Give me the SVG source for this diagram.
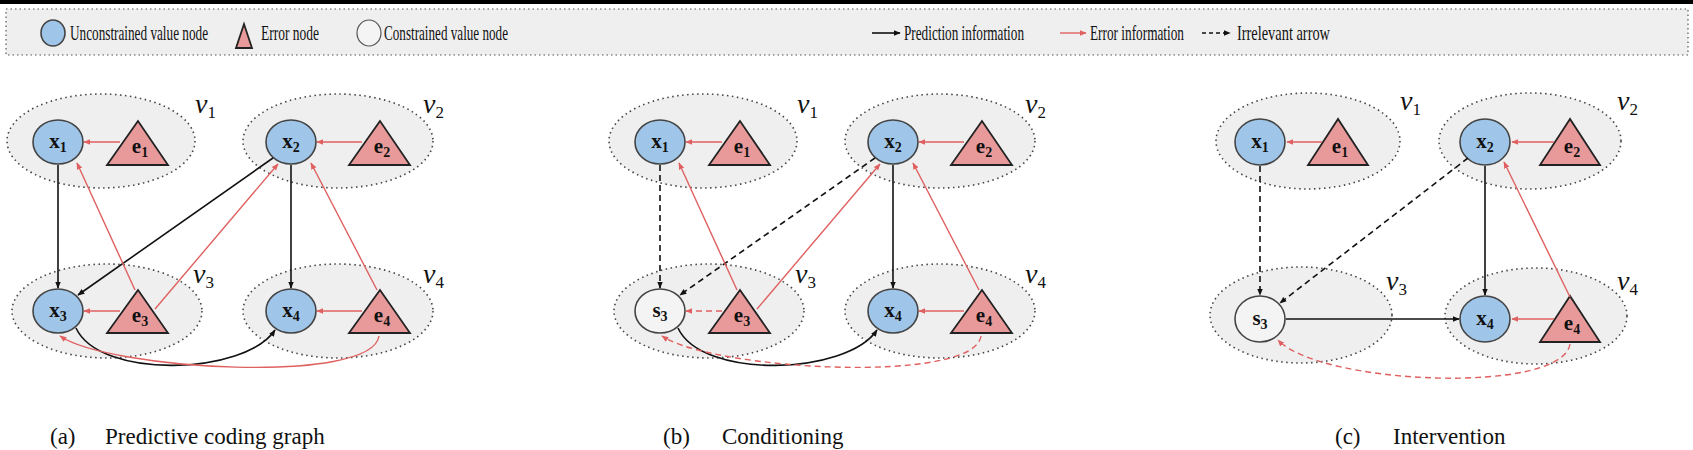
<svg xmlns="http://www.w3.org/2000/svg" width="1693" height="450" viewBox="0 0 1693 450">
<defs>
<marker id="mb" viewBox="0 0 10 10" refX="9" refY="5" markerWidth="7" markerHeight="7" orient="auto" markerUnits="userSpaceOnUse"><path d="M0,1 L10,5 L0,9 z" fill="#111"/></marker>
<marker id="mr" viewBox="0 0 10 10" refX="9" refY="5" markerWidth="7" markerHeight="7" orient="auto" markerUnits="userSpaceOnUse"><path d="M0,1 L10,5 L0,9 z" fill="#e06060"/></marker>
<style>
.grp{fill:#efefef;stroke:#444;stroke-width:1.6;stroke-dasharray:1.5 3.5}
.x{fill:#9fc5e8;stroke:#444;stroke-width:1.6}
.s{fill:#f4f4f4;stroke:#444;stroke-width:1.6}
.e{fill:#e89a9a;stroke:#222;stroke-width:1.8}
.lb{font-family:"Liberation Serif",serif;font-weight:bold;font-size:21px;text-anchor:middle;fill:#111}
.sub{font-size:14px}
.v{font-family:"Liberation Serif",serif;font-style:italic;font-size:28px;fill:#111}
.vs{font-size:17px;font-style:normal}
.k{stroke:#111;stroke-width:1.6;fill:none;marker-end:url(#mb)}
.r{stroke:#e06060;stroke-width:1.4;fill:none;marker-end:url(#mr)}
.d{stroke-dasharray:6 4}
.leg{font-family:"Liberation Serif",serif;font-size:21px;fill:#111}
.cap{font-family:"Liberation Serif",serif;font-size:23px;fill:#111}
</style>
</defs>
<rect x="0" y="0" width="1693" height="450" fill="#fff"/>
<rect x="0" y="0" width="1693" height="4" fill="#000"/>
<g id="legend">
<rect x="6" y="9" width="1682" height="46" fill="#efefef" stroke="#555" stroke-width="1.2" stroke-dasharray="1.5 3"/>
<ellipse cx="53" cy="33" rx="12" ry="13" class="x"/>
<text x="70" y="40" class="leg" textLength="138" lengthAdjust="spacingAndGlyphs">Unconstrained value node</text>
<path d="M236,48 L244,24 L252,48 z" class="e" stroke-width="1.2"/>
<text x="261" y="40" class="leg" textLength="58" lengthAdjust="spacingAndGlyphs">Error node</text>
<ellipse cx="369" cy="33" rx="12" ry="13" fill="#f4f4f4" stroke="#555" stroke-width="1.2"/>
<text x="384" y="40" class="leg" textLength="124" lengthAdjust="spacingAndGlyphs">Constrained value node</text>
<line x1="872" y1="33" x2="900" y2="33" class="k"/>
<text x="904" y="40" class="leg" textLength="120" lengthAdjust="spacingAndGlyphs">Prediction information</text>
<line x1="1060" y1="33" x2="1086" y2="33" class="r"/>
<text x="1090" y="40" class="leg" textLength="94" lengthAdjust="spacingAndGlyphs">Error information</text>
<line x1="1202" y1="33" x2="1230" y2="33" class="k" stroke-dasharray="4 3"/>
<text x="1237" y="40" class="leg" textLength="93" lengthAdjust="spacingAndGlyphs">Irrelevant arrow</text>
</g>

<g id="panel-a">
<g id="a-v1"><ellipse cx="101" cy="141" rx="94" ry="47" class="grp"/><text x="195" y="113" class="v">v<tspan class="vs" dy="5">1</tspan></text></g>
<g id="a-v2"><ellipse cx="338" cy="141" rx="95" ry="47" class="grp"/><text x="423" y="113" class="v">v<tspan class="vs" dy="5">2</tspan></text></g>
<g id="a-v3"><ellipse cx="107" cy="311" rx="95" ry="47" class="grp"/><text x="193" y="283" class="v">v<tspan class="vs" dy="5">3</tspan></text></g>
<g id="a-v4"><ellipse cx="338" cy="311" rx="95" ry="47" class="grp"/><text x="423" y="283" class="v">v<tspan class="vs" dy="5">4</tspan></text></g>
<g id="a-x1"><ellipse cx="58" cy="142" rx="25" ry="22" class="x"/><text x="58" y="148" class="lb">x<tspan class="sub" dy="4">1</tspan></text></g>
<g id="a-e1"><path d="M138,121 L107,165 L168,165 z" class="e"/><text x="140" y="153" class="lb">e<tspan class="sub" dy="4">1</tspan></text></g>
<g id="a-x2"><ellipse cx="291" cy="142" rx="25" ry="22" class="x"/><text x="291" y="148" class="lb">x<tspan class="sub" dy="4">2</tspan></text></g>
<g id="a-e2"><path d="M380,121 L349,165 L410,165 z" class="e"/><text x="382" y="153" class="lb">e<tspan class="sub" dy="4">2</tspan></text></g>
<g id="a-x3"><ellipse cx="58" cy="311" rx="25" ry="22" class="x"/><text x="58" y="317" class="lb">x<tspan class="sub" dy="4">3</tspan></text></g>
<g id="a-e3"><path d="M138,290 L107,333 L168,333 z" class="e"/><text x="140" y="322" class="lb">e<tspan class="sub" dy="4">3</tspan></text></g>
<g id="a-x4"><ellipse cx="291" cy="311" rx="25" ry="22" class="x"/><text x="291" y="317" class="lb">x<tspan class="sub" dy="4">4</tspan></text></g>
<g id="a-e4"><path d="M380,290 L349,333 L410,333 z" class="e"/><text x="382" y="322" class="lb">e<tspan class="sub" dy="4">4</tspan></text></g>
<g id="a-connectors">
<line x1="120" y1="142" x2="84" y2="142" class="r"/>
<line x1="362" y1="142" x2="317" y2="142" class="r"/>
<line x1="120" y1="311" x2="84" y2="311" class="r"/>
<line x1="362" y1="311" x2="317" y2="311" class="r"/>
<line x1="58" y1="165" x2="58" y2="288" class="k"/>
<line x1="273" y1="158" x2="78" y2="295" class="k"/>
<line x1="291" y1="165" x2="291" y2="288" class="k"/>
<line x1="135" y1="290" x2="77" y2="163" class="r"/>
<line x1="155" y1="309" x2="278" y2="164" class="r"/>
<line x1="377" y1="290" x2="311" y2="163" class="r"/>
<path d="M76,328 C100,380 245,375 275,330" class="k"/>
<path d="M379,336 C372,385 110,370 60,336" class="r"/>
</g>
</g>

<g id="panel-b" transform="translate(602,0)">
<g id="b-v1"><ellipse cx="101" cy="141" rx="94" ry="47" class="grp"/><text x="195" y="113" class="v">v<tspan class="vs" dy="5">1</tspan></text></g>
<g id="b-v2"><ellipse cx="338" cy="141" rx="95" ry="47" class="grp"/><text x="423" y="113" class="v">v<tspan class="vs" dy="5">2</tspan></text></g>
<g id="b-v3"><ellipse cx="107" cy="311" rx="95" ry="47" class="grp"/><text x="193" y="283" class="v">v<tspan class="vs" dy="5">3</tspan></text></g>
<g id="b-v4"><ellipse cx="338" cy="311" rx="95" ry="47" class="grp"/><text x="423" y="283" class="v">v<tspan class="vs" dy="5">4</tspan></text></g>
<g id="b-x1"><ellipse cx="58" cy="142" rx="25" ry="22" class="x"/><text x="58" y="148" class="lb">x<tspan class="sub" dy="4">1</tspan></text></g>
<g id="b-e1"><path d="M138,121 L107,165 L168,165 z" class="e"/><text x="140" y="153" class="lb">e<tspan class="sub" dy="4">1</tspan></text></g>
<g id="b-x2"><ellipse cx="291" cy="142" rx="25" ry="22" class="x"/><text x="291" y="148" class="lb">x<tspan class="sub" dy="4">2</tspan></text></g>
<g id="b-e2"><path d="M380,121 L349,165 L410,165 z" class="e"/><text x="382" y="153" class="lb">e<tspan class="sub" dy="4">2</tspan></text></g>
<g id="b-s3"><ellipse cx="58" cy="311" rx="25" ry="22" class="s"/><text x="58" y="317" class="lb">s<tspan class="sub" dy="4">3</tspan></text></g>
<g id="b-e3"><path d="M138,290 L107,333 L168,333 z" class="e"/><text x="140" y="322" class="lb">e<tspan class="sub" dy="4">3</tspan></text></g>
<g id="b-x4"><ellipse cx="291" cy="311" rx="25" ry="22" class="x"/><text x="291" y="317" class="lb">x<tspan class="sub" dy="4">4</tspan></text></g>
<g id="b-e4"><path d="M380,290 L349,333 L410,333 z" class="e"/><text x="382" y="322" class="lb">e<tspan class="sub" dy="4">4</tspan></text></g>
<g id="b-connectors">
<line x1="120" y1="142" x2="84" y2="142" class="r"/>
<line x1="362" y1="142" x2="317" y2="142" class="r"/>
<line x1="120" y1="311" x2="84" y2="311" class="r d"/>
<line x1="362" y1="311" x2="317" y2="311" class="r"/>
<line x1="58" y1="165" x2="58" y2="288" class="k d"/>
<line x1="273" y1="158" x2="78" y2="295" class="k d"/>
<line x1="291" y1="165" x2="291" y2="288" class="k"/>
<line x1="135" y1="290" x2="77" y2="163" class="r"/>
<line x1="155" y1="309" x2="278" y2="164" class="r"/>
<line x1="377" y1="290" x2="311" y2="163" class="r"/>
<path d="M76,328 C100,380 245,375 275,330" class="k"/>
<path d="M379,336 C372,385 110,370 60,336" class="r d"/>
</g>
</g>

<g id="panel-c" transform="translate(1200,0)">
<g id="c-v1"><ellipse cx="108" cy="141" rx="92" ry="48" class="grp"/><text x="200" y="110" class="v">v<tspan class="vs" dy="5">1</tspan></text></g>
<g id="c-v2"><ellipse cx="330" cy="141" rx="91" ry="48" class="grp"/><text x="417" y="110" class="v">v<tspan class="vs" dy="5">2</tspan></text></g>
<g id="c-v3"><ellipse cx="101" cy="315" rx="91" ry="48" class="grp"/><text x="186" y="290" class="v">v<tspan class="vs" dy="5">3</tspan></text></g>
<g id="c-v4"><ellipse cx="336" cy="316" rx="91" ry="48" class="grp"/><text x="417" y="290" class="v">v<tspan class="vs" dy="5">4</tspan></text></g>
<g id="c-x1"><ellipse cx="60" cy="142" rx="25" ry="23" class="x"/><text x="60" y="148" class="lb">x<tspan class="sub" dy="4">1</tspan></text></g>
<g id="c-e1"><path d="M138,119 L108,165 L168,165 z" class="e"/><text x="140" y="153" class="lb">e<tspan class="sub" dy="4">1</tspan></text></g>
<g id="c-x2"><ellipse cx="285" cy="142" rx="25" ry="23" class="x"/><text x="285" y="148" class="lb">x<tspan class="sub" dy="4">2</tspan></text></g>
<g id="c-e2"><path d="M370,119 L340,165 L400,165 z" class="e"/><text x="372" y="153" class="lb">e<tspan class="sub" dy="4">2</tspan></text></g>
<g id="c-s3"><ellipse cx="60" cy="319" rx="25" ry="23" class="s"/><text x="60" y="325" class="lb">s<tspan class="sub" dy="4">3</tspan></text></g>
<g id="c-x4"><ellipse cx="285" cy="319" rx="25" ry="23" class="x"/><text x="285" y="325" class="lb">x<tspan class="sub" dy="4">4</tspan></text></g>
<g id="c-e4"><path d="M370,296 L340,342 L400,342 z" class="e"/><text x="372" y="330" class="lb">e<tspan class="sub" dy="4">4</tspan></text></g>
<g id="c-connectors">
<line x1="122" y1="142" x2="87" y2="142" class="r"/>
<line x1="354" y1="142" x2="312" y2="142" class="r"/>
<line x1="354" y1="319" x2="312" y2="319" class="r"/>
<line x1="60" y1="166" x2="60" y2="295" class="k d"/>
<line x1="268" y1="158" x2="80" y2="303" class="k d"/>
<line x1="285" y1="166" x2="285" y2="295" class="k"/>
<line x1="86" y1="319" x2="259" y2="319" class="k"/>
<line x1="370" y1="297" x2="304" y2="162" class="r"/>
<path d="M370,344 C362,395 120,385 78,340" class="r d"/>
</g>
</g>

<g id="captions">
<text x="50" y="444" class="cap">(a)</text><text x="105" y="444" class="cap">Predictive coding graph</text>
<text x="663" y="444" class="cap">(b)</text><text x="722" y="444" class="cap">Conditioning</text>
<text x="1335" y="444" class="cap">(c)</text><text x="1393" y="444" class="cap">Intervention</text>
</g>
</svg>
